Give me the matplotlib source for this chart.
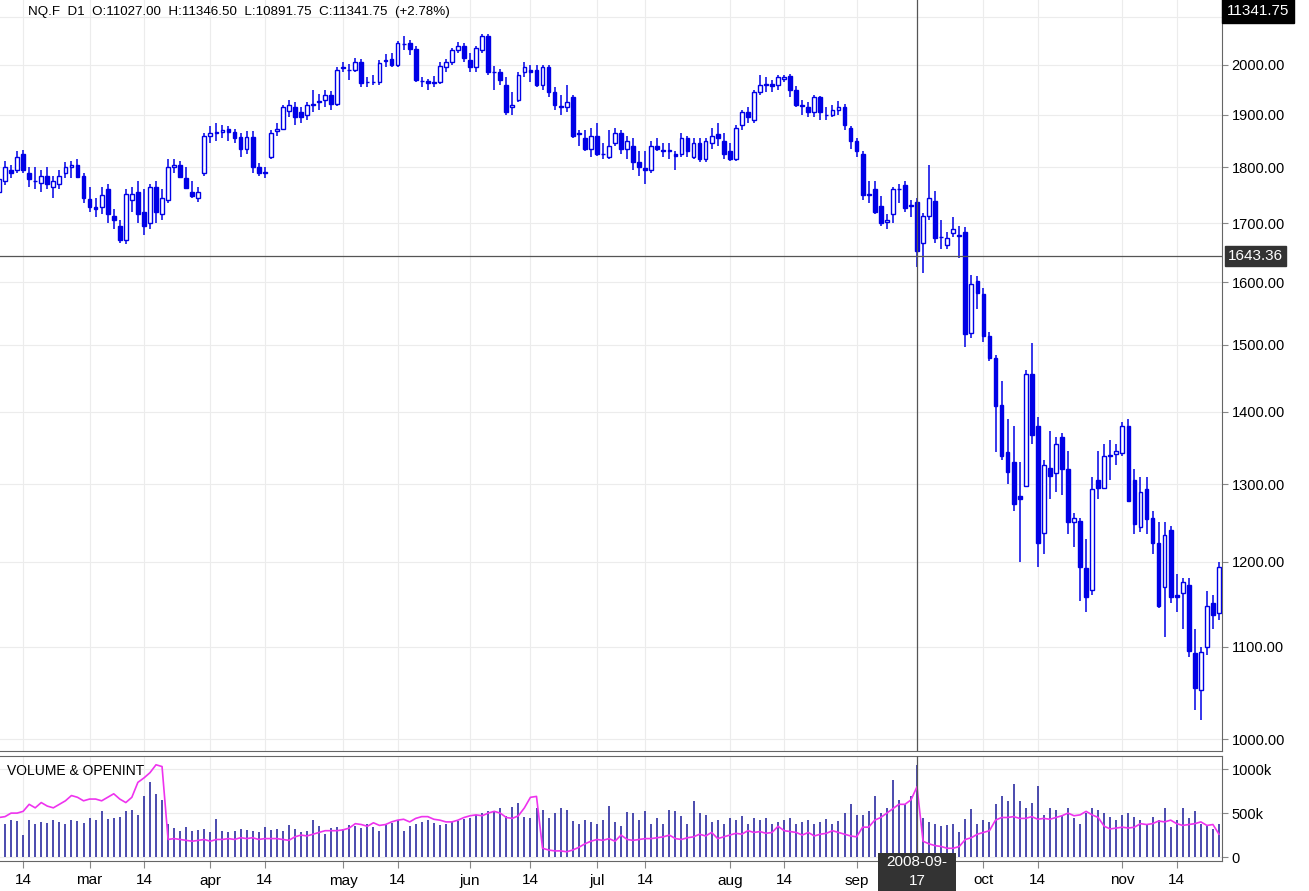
import matplotlib
matplotlib.use("Agg")
import matplotlib.pyplot as plt
import numpy as np
import pandas as pd
from matplotlib.ticker import FixedLocator, NullLocator

plt.rcParams["font.family"] = ["Liberation Sans", "DejaVu Sans"]

# ---------------- data ----------------
holidays = pd.to_datetime(["2008-02-18", "2008-03-21", "2008-05-26", "2008-07-04", "2008-09-01", "2008-11-27"])
all_days = pd.bdate_range("2008-02-08", "2008-12-05")
dates = [d for d in all_days if d not in holidays][:203]

ohlc = [
 (1755,1785,1740,1778),(1775,1812,1768,1800),(1795,1805,1780,1790),(1795,1830,1790,1820),(1825,1832,1790,1795),
 (1790,1800,1765,1778),(1775,1800,1760,1775),(1772,1795,1755,1785),(1785,1800,1760,1770),(1765,1785,1745,1775),
 (1770,1795,1760,1785),(1790,1810,1780,1800),(1800,1812,1780,1805),(1805,1815,1780,1782),(1785,1790,1735,1745),
 (1742,1765,1720,1728),(1728,1745,1710,1725),(1728,1765,1715,1750),(1760,1770,1700,1715),(1712,1725,1690,1705),
 (1695,1705,1665,1670),(1670,1760,1663,1752),(1740,1765,1720,1752),(1755,1775,1700,1715),(1720,1760,1680,1695),
 (1700,1770,1690,1765),(1765,1775,1700,1720),(1715,1760,1705,1745),(1740,1815,1735,1800),(1800,1815,1790,1805),
 (1805,1812,1785,1782),(1780,1800,1760,1762),(1755,1775,1745,1748),(1745,1765,1738,1755),
 (1790,1865,1785,1860),(1860,1878,1845,1864),(1864,1885,1850,1866),(1866,1880,1855,1870),(1872,1878,1850,1866),
 (1866,1872,1845,1855),(1858,1865,1820,1835),(1835,1868,1825,1858),(1858,1868,1790,1800),(1800,1808,1785,1790),
 (1790,1800,1780,1792),(1820,1870,1815,1865),(1868,1885,1860,1873),(1873,1920,1870,1915),(1908,1930,1895,1920),
 (1915,1925,1880,1895),(1905,1915,1885,1895),(1900,1925,1890,1920),(1920,1950,1905,1922),(1925,1942,1910,1928),
 (1930,1950,1915,1940),(1940,1948,1910,1922),(1922,1995,1918,1990),(1993,2005,1985,1995),(1990,2002,1970,1990),
 (1990,2015,1985,2005),(2007,2012,1955,1963),(1965,1975,1955,1965),(1965,1980,1960,1965),(1965,2010,1960,2003),
 (2008,2022,1995,2010),(2012,2025,1995,2000),(2000,2050,1995,2045),(2043,2060,2030,2043),(2045,2052,2020,2032),
 (2032,2040,1965,1970),(1968,1975,1955,1968),(1968,1972,1950,1963),(1963,1978,1955,1965),(1965,2005,1962,1997),
 (1995,2012,1985,2005),(2005,2035,2000,2030),(2030,2048,2025,2040),(2040,2045,2005,2015),(2010,2025,1985,1995),
 (1995,2040,1985,2035),(2030,2065,2025,2060),(2060,2065,1980,1985),(1985,1998,1950,1985),(1985,1992,1960,1970),
 (1960,1975,1900,1905),(1915,1945,1900,1920),(1930,1985,1925,1980),(1985,2005,1975,1995),(1990,2000,1965,1985),
 (1990,2000,1955,1960),(1960,2000,1950,1995),(1995,2000,1935,1945),(1945,1955,1910,1920),(1918,1940,1900,1915),
 (1915,1960,1905,1925),(1935,1940,1855,1860),(1865,1870,1840,1862),(1855,1870,1830,1835),(1835,1875,1820,1860),
 (1860,1885,1822,1825),(1825,1845,1815,1825),(1820,1870,1815,1840),(1845,1875,1840,1865),(1865,1870,1825,1835),
 (1835,1860,1815,1850),(1840,1855,1795,1810),(1810,1830,1785,1800),(1798,1830,1770,1795),(1795,1850,1790,1840),
 (1840,1855,1830,1835),(1832,1845,1820,1830),(1830,1845,1815,1833),(1825,1830,1795,1822),(1825,1865,1820,1855),
 (1855,1860,1820,1830),(1820,1855,1815,1845),(1845,1855,1810,1815),(1815,1855,1810,1850),(1845,1875,1835,1860),
 (1862,1885,1840,1855),(1850,1865,1815,1825),(1830,1845,1812,1815),(1815,1880,1812,1875),(1880,1910,1870,1905),
 (1905,1915,1885,1895),(1890,1950,1885,1945),(1945,1980,1940,1960),(1960,1975,1945,1962),(1962,1970,1945,1957),
 (1960,1980,1950,1975),(1972,1980,1965,1975),(1978,1982,1935,1950),(1950,1958,1915,1920),(1920,1930,1900,1918),
 (1915,1925,1895,1905),(1905,1940,1895,1935),(1935,1938,1890,1905),(1900,1915,1890,1900),(1900,1920,1895,1910),
 (1910,1928,1900,1915),(1915,1922,1870,1880),(1875,1878,1835,1850),(1850,1855,1820,1830),(1825,1830,1740,1750),
 (1750,1775,1735,1752),(1760,1775,1715,1720),(1730,1748,1695,1700),(1702,1715,1690,1705),(1715,1765,1700,1760),
 (1760,1770,1735,1760),(1767,1775,1720,1727),(1730,1740,1710,1732),(1738,1745,1625,1651),(1665,1717,1615,1712),
 (1712,1805,1705,1744),(1739,1757,1665,1674),(1675,1705,1655,1675),(1662,1685,1655,1674),(1683,1710,1675,1690),
 (1680,1695,1640,1677),(1684,1693,1497,1517),(1518,1612,1510,1597),(1602,1610,1557,1582),(1580,1590,1505,1514),
 (1513,1520,1475,1480),(1480,1484,1344,1408),(1410,1445,1332,1338),(1343,1390,1300,1316),(1330,1380,1265,1274),
 (1284,1330,1200,1280),(1298,1462,1298,1455),(1455,1502,1355,1367),(1380,1392,1194,1224),(1236,1333,1210,1326),
 (1322,1373,1280,1311),(1315,1365,1290,1355),(1364,1370,1285,1320),(1320,1345,1235,1250),(1250,1262,1218,1255),
 (1252,1255,1153,1194),(1193,1228,1140,1157),(1166,1310,1160,1293),(1306,1345,1280,1295),(1295,1355,1295,1338),
 (1338,1360,1305,1340),(1341,1355,1325,1345),(1342,1385,1338,1380),(1380,1390,1276,1278),(1305,1320,1235,1248),
 (1244,1310,1238,1289),(1294,1310,1235,1254),(1256,1265,1210,1224),(1223,1250,1145,1147),(1169,1250,1111,1234),
 (1240,1245,1150,1158),(1160,1185,1140,1158),(1162,1180,1120,1176),(1172,1180,1088,1095),(1093,1120,1030,1054),
 (1052,1100,1020,1094),(1100,1165,1090,1147),(1150,1160,1120,1136),(1138,1200,1130,1194),
]
opens = [r[0] for r in ohlc]
highs = [r[1] for r in ohlc]
lows = [r[2] for r in ohlc]
closes = [r[3] for r in ohlc]

volume_k = [
 400,380,420,410,250,420,380,400,390,420,
 400,380,420,410,390,440,420,520,430,450,
 460,520,540,480,700,850,720,650,380,330,
 300,340,300,310,320,290,430,300,280,300,
 320,310,300,280,340,310,320,300,360,320,
 290,300,420,350,260,330,340,320,360,350,
 330,380,340,300,360,390,420,300,350,380,
 400,420,390,360,380,400,410,430,450,480,
 500,520,520,560,470,570,620,460,450,560,
 540,450,500,560,530,410,380,420,400,380,
 420,580,400,350,510,500,420,520,380,440,
 380,530,520,470,380,640,500,480,400,420,
 380,450,420,470,380,440,420,440,380,400,
 420,440,380,400,420,380,400,430,380,410,
 500,600,480,480,520,700,500,560,880,650,
 600,700,1050,450,400,380,350,360,380,280,
 430,550,380,420,400,600,700,640,830,640,
 560,620,810,480,560,530,480,560,450,380,
 500,560,540,500,460,420,480,500,460,420,
 380,460,420,560,340,420,560,440,520,380,
 360,320,380,
]
openint_k = [
 450,460,500,500,520,600,560,620,580,560,
 600,640,700,680,640,660,660,640,680,720,
 660,620,680,850,900,960,1050,1030,200,210,
 200,190,180,190,200,180,200,200,210,200,
 220,210,220,200,210,210,210,200,190,230,
 250,240,260,280,300,300,300,310,330,380,
 370,350,390,360,370,400,420,430,400,440,
 460,460,430,420,400,400,420,450,470,480,
 470,500,520,500,450,440,470,560,680,690,
 100,80,70,70,60,80,110,150,180,200,
 190,210,180,250,200,190,200,210,210,220,
 230,250,210,200,220,230,260,240,280,210,
 230,250,270,260,300,280,290,270,280,350,
 300,290,280,250,280,240,260,270,300,280,
 260,240,230,340,340,420,450,500,550,600,
 600,650,800,180,150,130,120,100,100,120,
 200,220,260,280,300,420,450,450,460,440,
 440,460,430,440,430,450,470,500,470,480,
 520,480,450,350,320,330,340,330,340,380,
 370,380,410,400,420,380,360,370,380,400,
 360,370,260,
]
price_ticks = [1000, 1100, 1200, 1300, 1400, 1500, 1600, 1700, 1800, 1900, 2000, 2100]
cross_idx = 152
cross_price = 1643.36

# ---------------- figure ----------------
W, H = 1309, 891
fig = plt.figure(figsize=(W/100, H/100), dpi=100)
fig.patch.set_facecolor("white")
axp = fig.add_axes([0, (H-751)/H, 1222/W, 751/H])
axv = fig.add_axes([0, (H-861)/H, 1222/W, 105/H])

n = len(closes)
x = np.arange(n)
BLUE = "#0000e6"
grid_c = "#ececec"

tick_pos, tick_lab = [], []
for i, d in enumerate(dates[:n]):
    if i == 0:
        continue
    prev = dates[i-1]
    if d.month != prev.month:
        tick_pos.append(i); tick_lab.append(d.strftime("%b").lower())
    elif d.day >= 14 and prev.day < 14 and d.month != 9:
        tick_pos.append(i); tick_lab.append("14")

xl = (0.17, 202.5)
axp.set_yscale("log")
axp.set_ylim(988, 2138)
axp.set_xlim(*xl)
for yv in price_ticks:
    axp.axhline(yv, color=grid_c, lw=0.8, zorder=0)
for tp in tick_pos:
    axp.axvline(tp, color=grid_c, lw=0.8, zorder=0)
    axv.axvline(tp, color=grid_c, lw=0.8, zorder=0)

o = np.array(opens); c = np.array(closes)
axp.vlines(x, lows, highs, color=BLUE, lw=1.1, zorder=2)
up = c >= o
bw = 0.62
axp.bar(x[up], (c-o)[up], bottom=o[up], width=bw, facecolor="white", edgecolor=BLUE, lw=1.0, zorder=3)
axp.bar(x[~up], (o-c)[~up], bottom=c[~up], width=bw, facecolor=BLUE, edgecolor=BLUE, lw=1.0, zorder=3)

axp.axvline(cross_idx, color="#555555", lw=0.9, zorder=4)
axp.axhline(cross_price, color="#555555", lw=0.9, zorder=4)

axp.yaxis.tick_right()
axp.yaxis.set_major_locator(FixedLocator(price_ticks))
axp.yaxis.set_minor_locator(NullLocator())
axp.set_yticklabels([f"{v:.2f}" for v in price_ticks], fontsize=10.5)
axp.tick_params(axis="y", length=4, pad=3, color="#888888")
axp.set_xticks([])
for s in ["top", "left"]:
    axp.spines[s].set_visible(False)
axp.spines["right"].set_color("#666666")
axp.spines["bottom"].set_color("#666666")

fig.text(28/W, 1-12/H, "NQ.F  D1  O:11027.00  H:11346.50  L:10891.75  C:11341.75  (+2.78%)",
         fontsize=9.6, va="center", ha="left")
fig.text(1227/W, 1-11/H, "11341.75", fontsize=11, color="white", va="center", ha="left", zorder=10,
         bbox=dict(boxstyle="square,pad=0.3", fc="black", ec="black"))
axp.annotate(f"{cross_price:.2f}", xy=(1.0, cross_price), xycoords=("axes fraction", "data"),
             xytext=(4, 0), textcoords="offset points", fontsize=11, color="white",
             va="center", ha="left", bbox=dict(boxstyle="square,pad=0.2", fc="#333333", ec="#333333"))

axv.set_xlim(*xl)
axv.set_ylim(-45, 1150)
for yv in [0, 500, 1000]:
    axv.axhline(yv, color=grid_c, lw=0.8, zorder=0)
axv.vlines(x, 0, volume_k, color="#1a1a99", lw=1.1, zorder=2)
axv.plot(x, openint_k, color="#ee33ee", lw=1.2, zorder=3)
axv.axvline(cross_idx, color="#555555", lw=0.9, zorder=4)
axv.yaxis.tick_right()
axv.set_yticks([0, 500, 1000])
axv.set_yticklabels(["0", "500k", "1000k"], fontsize=10.5)
axv.tick_params(axis="y", length=4, pad=3, color="#888888")
axv.set_xticks(tick_pos)
axv.set_xticklabels(tick_lab, fontsize=11)
axv.tick_params(axis="x", length=5, pad=4, color="#888888")
axv.spines["left"].set_visible(False)
for s in ["top", "bottom", "right"]:
    axv.spines[s].set_color("#666666")
axv.text(7/1222, 0.86, "VOLUME & OPENINT", transform=axv.transAxes, fontsize=10, va="center")

xpix = axv.transData.transform((cross_idx, 0))[0]
fig.patches.append(plt.Rectangle(((xpix-39)/W, 0), 78/W, 38/H, transform=fig.transFigure,
                                 fc="#333333", ec="none", zorder=5))
fig.text(xpix/W, 1-862/H, "2008-09-", fontsize=11, color="white", ha="center", va="center", zorder=6)
fig.text(xpix/W, 1-881/H, "17", fontsize=11, color="white", ha="center", va="center", zorder=6)

fig.savefig("out.png", dpi=100, facecolor="white")
